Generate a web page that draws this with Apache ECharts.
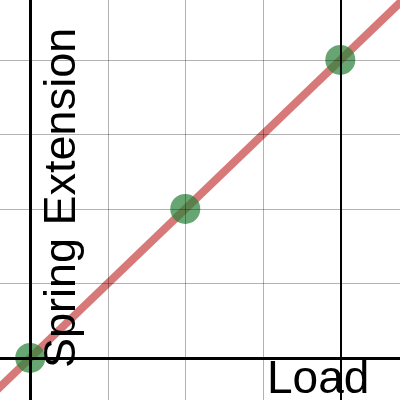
<!DOCTYPE html>
<html><head><meta charset="utf-8">
<script src="https://cdn.jsdelivr.net/npm/echarts@6/dist/echarts.min.js"></script>
<style>html,body{margin:0;padding:0;background:#fff}#c{width:400px;height:400px}</style>
</head><body><div id="c"></div>
<script>
const loads = [0, 2, 4];
const extensions = [0, 2, 4];
const fitLine = [[-0.6, -0.6], [5, 5.2]];
const gridX = [1, 2, 3];
const gridY = [1, 2, 3, 4];
const xLabel = 'Load';
const yLabel = 'Spring Extension';

const chart = echarts.init(document.getElementById('c'));
const thin = {color: 'rgba(0,0,0,0.3)', width: 1, type: 'solid'};
const bold = {color: '#000', width: 3, type: 'solid'};
const marks = [];
gridX.forEach(v => marks.push({xAxis: v, lineStyle: thin}));
gridY.forEach(v => marks.push({yAxis: v, lineStyle: thin}));
marks.push({xAxis: 0, lineStyle: bold});
marks.push({yAxis: 0, lineStyle: bold});
marks.push({xAxis: 4, lineStyle: {color: '#000', width: 2, type: 'solid'}});

chart.setOption({
  animation: false,
  grid: {left: 0, right: 0, top: 0, bottom: 0},
  xAxis: {type: 'value', min: -0.39, max: 4.77, show: false, splitLine: {show: false}},
  yAxis: {type: 'value', min: -0.564, max: 4.805, show: false, splitLine: {show: false}},
  series: [
    {type: 'line', data: [], markLine: {silent: true, symbol: 'none', label: {show: false}, data: marks}, z: 1},
    {type: 'line', data: [[-0.6, -0.6], [5.2, 5.2]], showSymbol: false, lineStyle: {color: 'rgba(200,64,64,0.7)', width: 8}, z: 2},
    {type: 'scatter', data: loads.map((x, i) => [x, extensions[i]]), symbolSize: 30,
     itemStyle: {color: 'rgba(45,130,60,0.9)'}, z: 3}
  ],
  graphic: [
    {type: 'text', left: 267, top: 357, z: 10,
     style: {text: xLabel, font: '46px "Liberation Sans", Arial', fill: '#000'}},
    {type: 'text', x: 40, y: 368, rotation: Math.PI / 2, z: 10,
     style: {text: yLabel, font: '45px "Liberation Sans", Arial', fill: '#000', align: 'left', verticalAlign: 'top'}}
  ]
});
</script></body></html>
